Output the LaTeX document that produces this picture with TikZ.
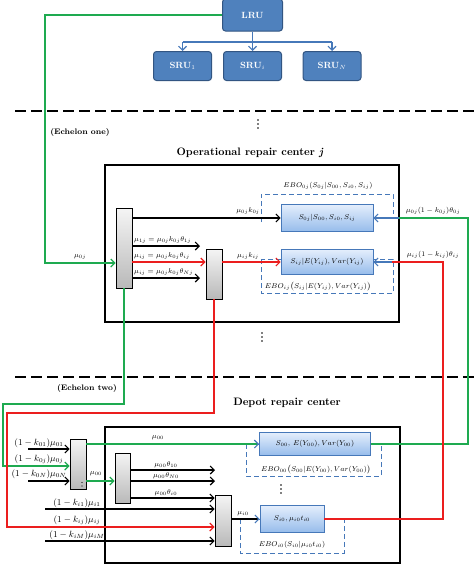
\documentclass[tikz,border=0pt]{standalone}
\usepackage{amsmath}
\usetikzlibrary{arrows.meta}
\definecolor{lrublue}{RGB}{79,129,189}
\definecolor{lruborder}{RGB}{50,85,130}
\definecolor{grn}{RGB}{30,170,80}
\definecolor{rd}{RGB}{235,30,30}
\definecolor{sbtop}{RGB}{228,238,252}
\definecolor{sbbot}{RGB}{150,188,235}
\definecolor{dblue}{RGB}{70,120,185}
\begin{document}
\begin{tikzpicture}[x=1pt,y=-1pt,
 every node/.style={inner sep=0pt},
 topbox/.style={draw=lruborder, fill=lrublue, rounded corners=3pt, line width=1pt, text=white, font=\bfseries\fontsize{9}{10}\selectfont, minimum width=58pt, minimum height=29pt},
 mux/.style={draw=black, line width=0.8pt, top color=gray!8, bottom color=gray!55, minimum width=16pt},
 sbox/.style={draw=dblue, line width=0.6pt, top color=sbtop, bottom color=sbbot, font=\fontsize{7.2}{8}\selectfont},
 ebo/.style={draw=dblue, dash pattern=on 5pt off 3pt, line width=0.9pt},
 lab/.style={font=\fontsize{7.4}{8}\selectfont},
 inlab/.style={font=\fontsize{8.6}{9}\selectfont},
 blktip/.style={-{Straight Barb[length=4pt,width=8pt]}},
 bluetip/.style={-{Straight Barb[length=4pt,width=8pt,color=dblue]}},
 blk/.style={black, line width=1.1pt, blktip},
 grnl/.style={draw=grn, line width=1.2pt},
 redl/.style={draw=rd, line width=1.2pt},
 bluea/.style={draw=dblue, line width=1.1pt, bluetip},
 tree/.style={draw=dblue, line width=1.1pt},
 sepline/.style={line width=2.5pt, dash pattern=on 11pt off 5pt},
 ech/.style={font=\bfseries\fontsize{8}{9}\selectfont},
 ttl/.style={font=\bfseries\fontsize{10.8}{12}\selectfont},
 dot/.style={fill=black, circle, minimum size=1.6pt},
]
\useasboundingbox (0,0) rectangle (474,565);

% ---------- top tree ----------
\node[topbox, minimum width=60pt, minimum height=32pt] (lru) at (252.5,15) {LRU};
\node[topbox] (sru1) at (182.5,66) {SRU$_1$};
\node[topbox] (srui) at (252.5,66) {SRU$_i$};
\node[topbox] (srun) at (332,66) {SRU$_N$};
\coordinate (tj) at (252.5,42);
\draw[tree] (lru.south) -- (tj);
\draw[tree] (sru1.north |- tj) -- (srun.north |- tj);
\draw[bluea] (sru1.north |- tj) -- (sru1.north);
\draw[bluea] (tj) -- (srui.north);
\draw[bluea] (srun.north |- tj) -- (srun.north);

% ---------- separators & titles ----------
\draw[sepline] (15,111) -- (474,111);
\draw[sepline] (15,377) -- (474,377);
\foreach \yy in {120,124,128} \node[dot] at (258,\yy) {};
\foreach \yy in {333,337,341} \node[dot] at (262,\yy) {};
\node[ech] (e1) at (80,132) {(Echelon one)};
\node[ttl] (t1) at (250,153) {Operational repair center \textit{j}};
\node[ech] (e2) at (87,388) {(Echelon two)};
\node[ttl] (t2) at (287,403) {Depot repair center};

% ---------- operational box ----------
\node[draw, line width=1.7pt, minimum width=294pt, minimum height=157pt] (box1) at (252,243.5) {};
\draw[ebo] (261,222) -- (261,194) -- (393,194) -- (393,214);
\draw[ebo] (261,259) rectangle (393,293);
\node[sbox, minimum width=92pt, minimum height=27pt] (s0j) at (327,218) {$S_{0j}|S_{00},S_{i0},S_{ij}$};
\node[sbox, minimum width=92pt, minimum height=25pt] (sij) at (327,262) {$S_{ij}|E(Y_{ij}),Var(Y_{ij})$};
\node[lab] (ebo0j) at (328,186) {$EBO_{0j}(S_{0j}|S_{00},S_{i0},S_{ij})$};
\node[lab] (eboij) at (318,287) {$EBO_{ij}\bigl(S_{ij}|E(Y_{ij}),Var(Y_{ij})\bigr)$};

\node[mux, minimum height=80pt] (mux1) at (124,248) {};
\node[mux, minimum height=50pt] (mux2) at (214,274) {};

\draw[blk] (mux1.east |- s0j.west) -- (s0j.west);
\coordinate (a1) at (200,246);
\coordinate (a3) at (200,278);
\draw[blk] (mux1.east |- a1) -- (a1);
\draw[blk] (mux1.east |- a3) -- (a3);
\draw[redl, blktip] (mux1.east |- sij.west) -- (mux2.west |- sij.west);
\draw[redl, blktip] (mux2.east |- sij.west) -- (sij.west);

\node[lab] (l0jk) at (248,211) {$\mu_{0j}k_{0j}$};
\node[lab, anchor=west] (l1) at (134,240) {$\mu_{1j}=\mu_{0j}k_{0j}\theta_{1j}$};
\node[lab, anchor=west] (l2) at (134,256) {$\mu_{ij}=\mu_{0j}k_{0j}\theta_{ij}$};
\node[lab, anchor=west] (l3) at (134,272) {$\mu_{ij}=\mu_{0j}k_{0j}\theta_{Nj}$};
\node[lab] (lijk) at (248,256) {$\mu_{ij}k_{ij}$};

% green from LRU
\coordinate (g1) at (45,15);
\coordinate (g2) at (45,263);
\draw[grnl, blktip] (lru.west) -- (g1) -- (g2) -- (mux1.west |- g2);
\node[lab] (lg) at (80,257) {$\mu_{0j}$};

% feedback lines
\coordinate (gr1) at (468,218);
\coordinate (gr0) at (399,218);
\coordinate (rr1) at (443,262);
\coordinate (rr0) at (392,262);
\node[lab] (lfb1) at (433,211) {$\mu_{0j}(1-k_{0j})\theta_{0j}$};
\node[lab] (lfb2) at (433,255) {$\mu_{ij}(1-k_{ij})\theta_{ij}$};

% ---------- depot box ----------
\node[draw, line width=1.7pt, minimum width=295pt, minimum height=136pt] (box2) at (252.5,495) {};
\draw[ebo] (246,444) rectangle (381,476);
\draw[ebo] (240,519) rectangle (344,553);
\node[sbox, minimum width=111pt, minimum height=23pt] (s00) at (315,444) {$S_{00},\,E(Y_{00}),Var(Y_{00})$};
\node[sbox, minimum width=64pt, minimum height=27pt] (si0) at (292,519) {$S_{i0},\mu_{i0}t_{i0}$};
\node[lab] (ebo00) at (316,469.5) {$EBO_{00}\bigl(S_{00}|E(Y_{00}),Var(Y_{00})\bigr)$};
\node[lab] (eboi0) at (292,545) {$EBO_{i0}(S_{i0}|\mu_{i0}t_{i0})$};
\foreach \yy in {485,489,493} \node[dot] at (281,\yy) {};

\node[mux, minimum height=50pt] (mux3) at (78,464) {};
\node[mux, minimum width=15pt, minimum height=50pt] (mux5) at (122.5,478) {};
\node[mux, minimum height=51pt] (mux4) at (223,520.5) {};
\foreach \yy in {482.5,486} \node[dot, minimum size=1.2pt] at (82,\yy) {};

% green from mux1 down to mux3
\coordinate (gd1) at (124,404);
\coordinate (gd2) at (3,404);
\coordinate (gd3) at (3,466);
\draw[grnl, blktip] (mux1.south) -- (gd1) -- (gd2) -- (gd3) -- (mux3.west |- gd3);
% red from mux2 down to mux4
\coordinate (rd1) at (214,413);
\coordinate (rd2) at (7,413);
\coordinate (rd3) at (7,527);
\draw[redl, blktip] (mux2.south) -- (rd1) -- (rd2) -- (rd3) -- (mux4.west |- rd3);

% inputs to mux3
\coordinate (i1) at (28,449);
\coordinate (i3) at (28,481);
\draw[blk] (i1) -- (mux3.west |- i1);
\draw[blk] (i3) -- (mux3.west |- i3);
\node[inlab] (li1) at (39,443.5) {$(1-k_{01})\mu_{01}$};
\node[inlab] (li2) at (39,459) {$(1-k_{0j})\mu_{0j}$};
\node[inlab] (li3) at (39,474) {$(1-k_{0N})\mu_{0N}$};

% outputs of mux3
\draw[grnl, bluetip] (mux3.east |- s00.west) -- (s00.west);
\coordinate (m5) at (100,481);
\draw[grnl, blktip] (mux3.east |- m5) -- (mux5.west |- m5);
\node[lab] (l00a) at (158,438) {$\mu_{00}$};
\node[lab] (l00b) at (96,473.5) {$\mu_{00}$};

% outputs of mux5
\coordinate (b1) at (215,470);
\coordinate (b2) at (215,481);
\coordinate (b3) at (215,498);
\draw[blk] (mux5.east |- b1) -- (b1);
\draw[blk] (mux5.east |- b2) -- (b2);
\draw[blk] (mux5.east |- b3) -- (mux4.west |- b3);
\node[lab] (lt1) at (166,464.5) {$\mu_{00}\theta_{10}$};
\node[lab] (lt2) at (166,475.5) {$\mu_{00}\theta_{N0}$};
\node[lab] (lt3) at (166,492.5) {$\mu_{00}\theta_{i0}$};

% long inputs to mux4
\coordinate (c1) at (45,509);
\coordinate (c3) at (45,541);
\draw[blk] (c1) -- (mux4.west |- c1);
\draw[blk] (c3) -- (mux4.west |- c3);
\node[inlab] (lc1) at (77,503.5) {$(1-k_{i1})\mu_{i1}$};
\node[inlab] (lc2) at (77,520) {$(1-k_{ij})\mu_{ij}$};
\node[inlab] (lc3) at (77,535) {$(1-k_{iM})\mu_{iM}$};

% mux4 output
\draw[black, line width=1.1pt, bluetip] (mux4.east |- si0.west) -- (si0.west);
\node[lab] (li0) at (243,514) {$\mu_{i0}$};

% feedback paths
\draw[grnl] (s00.east) -- (s00.east -| gr1) -- (gr1) -- (gr0);
\draw[bluea] (gr0) -- (s0j.east);
\draw[redl] (si0.east) -- (si0.east -| rr1) -- (rr1) -- (rr0);
\draw[bluea] (rr0) -- (sij.east);
\end{tikzpicture}
\end{document}
